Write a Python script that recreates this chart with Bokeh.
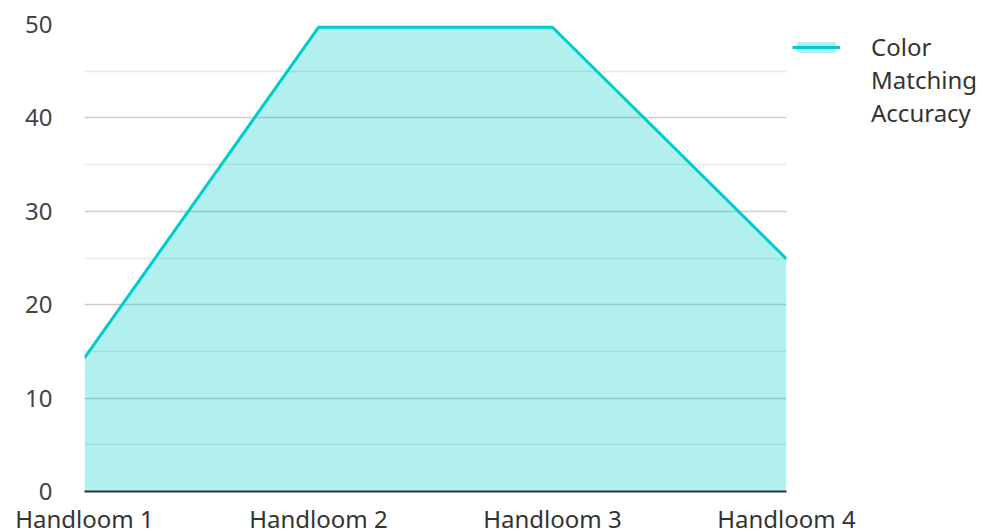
from bokeh.plotting import figure
from bokeh.models import FixedTicker, Legend, LegendItem, Range1d
from bokeh.embed import file_html
from bokeh.resources import INLINE

categories = ["Handloom 1", "Handloom 2", "Handloom 3", "Handloom 4"]
accuracy = [14.3, 49.7, 49.7, 24.9]
series_name_lines = ["Color", "Matching", "Accuracy"]
y_ticks = [0, 10, 20, 30, 40, 50]
y_minor = [5, 15, 25, 35, 45]

xs = list(range(len(categories)))
FONT = "Noto Sans"
TEAL = "#00cccc"

p = figure(frame_width=702, frame_height=467, output_backend="svg", toolbar_location=None,
           x_range=Range1d(0, len(categories) - 1), y_range=Range1d(0, 50),
           min_border_left=84, min_border_top=24, min_border_bottom=41, min_border_right=0)
p.outline_line_color = None
p.background_fill_color = "white"

area = p.varea(x=xs, y1=[0] * len(xs), y2=accuracy, fill_color=TEAL, fill_alpha=0.3)
line = p.line(x=xs, y=accuracy, line_color=TEAL, line_width=3)
# invisible renderers used only to carry the extra legend text rows
blank1 = p.line(x=[0, 0], y=[0, 0], line_alpha=0)
blank2 = p.line(x=[0, 0], y=[0, 0], line_alpha=0)

p.xaxis.ticker = FixedTicker(ticks=xs)
p.xaxis.major_label_overrides = {i: c for i, c in enumerate(categories)}
p.xaxis.axis_line_color = "#333333"
p.xaxis.axis_line_width = 2
p.xaxis.major_tick_line_color = None
p.xaxis.minor_tick_line_color = None
p.xaxis.major_label_text_font = FONT
p.xaxis.major_label_text_font_size = "24px"
p.xaxis.major_label_text_color = "#333333"
p.xaxis.major_label_standoff = 4

p.yaxis.ticker = FixedTicker(ticks=y_ticks, minor_ticks=y_minor)
p.yaxis.axis_line_color = None
p.yaxis.major_tick_line_color = None
p.yaxis.minor_tick_line_color = None
p.yaxis.major_label_text_font = FONT
p.yaxis.major_label_text_font_size = "24px"
p.yaxis.major_label_text_color = "#444444"
p.yaxis.major_label_standoff = 26

p.xgrid.grid_line_color = None
p.ygrid.grid_line_color = "#cccccc"
p.ygrid.grid_line_width = 1.5
p.ygrid.minor_grid_line_color = "#e8e8e8"
p.ygrid.minor_grid_line_width = 1.5

legend = Legend(items=[LegendItem(label=series_name_lines[0], renderers=[area, line]),
                       LegendItem(label=series_name_lines[1], renderers=[blank1]),
                       LegendItem(label=series_name_lines[2], renderers=[blank2])],
                location="top_left", glyph_width=48, glyph_height=14,
                label_standoff=31, padding=0, margin=6, spacing=0,
                border_line_color=None, background_fill_alpha=0,
                label_text_font=FONT, label_text_font_size="24px",
                label_text_color="#333333")
p.add_layout(legend, "right")

open("out.html", "w").write(file_html(p, INLINE))
